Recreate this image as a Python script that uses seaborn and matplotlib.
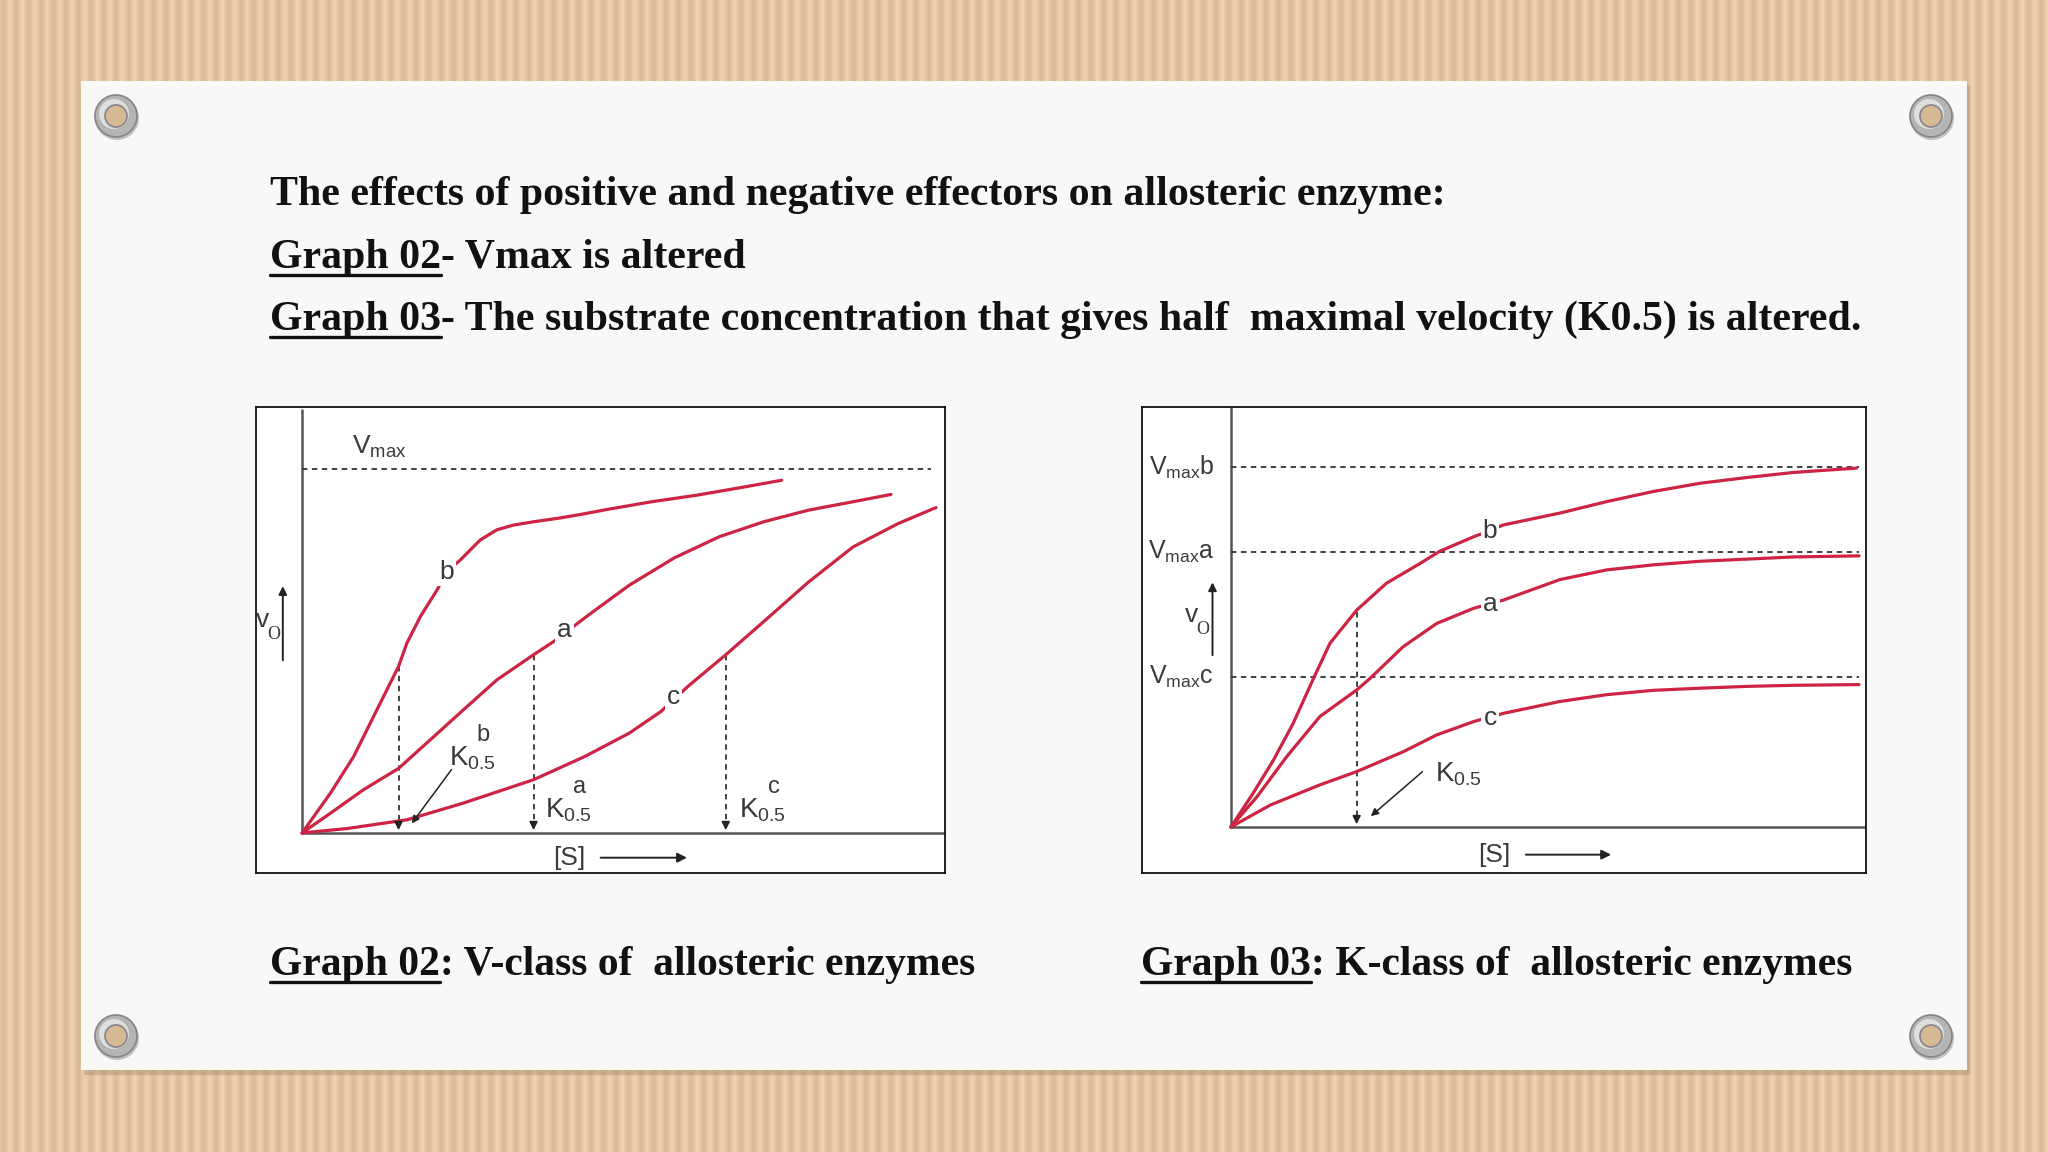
import numpy as np
import matplotlib
matplotlib.use("Agg")
import matplotlib.pyplot as plt
import seaborn as sns
from matplotlib.patches import Rectangle, Circle

# ---- Graph 02 (V-class): [S] vs vO, Vmax = 1 ----
v_b_s = [0, 0.44, 0.80, 1.11, 1.37, 1.50, 1.63, 1.84, 2.10, 2.25, 2.46, 2.77, 3.03, 3.29, 3.60,
         3.96, 4.33, 4.75, 5.44, 6.14, 6.83, 7.46]
v_b_v = [0, 0.109, 0.209, 0.319, 0.411, 0.457, 0.521, 0.594, 0.667, 0.717, 0.749, 0.804, 0.832,
         0.845, 0.854, 0.863, 0.874, 0.888, 0.909, 0.927, 0.948, 0.968]
v_a_s = [0, 0.44, 0.95, 1.50, 1.99, 2.51, 3.03, 3.60, 3.91, 4.47, 5.09, 5.79, 6.49, 7.18, 7.88, 8.57, 9.16]
v_a_v = [0, 0.054, 0.118, 0.177, 0.255, 0.338, 0.420, 0.489, 0.525, 0.600, 0.680, 0.755, 0.813,
         0.854, 0.886, 0.909, 0.929]
v_c_s = [0, 0.70, 1.63, 2.51, 3.60, 4.40, 5.09, 5.58, 6.00, 6.59, 7.18, 7.88, 8.57, 9.27, 9.86]
v_c_v = [0, 0.012, 0.036, 0.082, 0.146, 0.210, 0.274, 0.333, 0.402, 0.489, 0.580, 0.689, 0.785,
         0.849, 0.893]
v_k05 = {"b": (1.50, 0.457), "a": (3.60, 0.489), "c": (6.59, 0.489)}

# ---- Graph 03 (K-class): Vmax b = 1 ----
k_b_s = [0, 0.35, 0.67, 0.98, 1.30, 1.56, 1.98, 2.45, 2.98, 3.29, 3.82, 4.03, 4.29, 5.18, 5.92,
         6.65, 7.39, 8.13, 8.86, 9.85]
k_b_v = [0, 0.094, 0.186, 0.288, 0.413, 0.511, 0.603, 0.678, 0.733, 0.767, 0.807, 0.821, 0.840,
         0.873, 0.905, 0.933, 0.956, 0.972, 0.986, 0.998]
k_a_s = [0, 0.41, 0.88, 1.40, 1.98, 2.19, 2.71, 3.24, 3.82, 4.29, 5.18, 5.92, 6.65, 7.39, 8.13,
         8.86, 9.89]
k_a_v = [0, 0.084, 0.196, 0.307, 0.381, 0.413, 0.501, 0.566, 0.608, 0.631, 0.688, 0.715, 0.729,
         0.739, 0.745, 0.751, 0.754]
k_c_s = [0, 0.62, 1.40, 1.98, 2.71, 3.24, 3.82, 4.29, 5.18, 5.92, 6.65, 7.39, 8.13, 8.86, 9.89]
k_c_v = [0, 0.061, 0.117, 0.154, 0.209, 0.256, 0.293, 0.316, 0.349, 0.368, 0.380, 0.386, 0.391,
         0.394, 0.396]
k_vmax = {"b": 1.0, "a": 0.766, "c": 0.416}
k_k05 = (1.98, 0.599)

title_lines = [
    "The effects of positive and negative effectors on allosteric enzyme:",
    ("Graph 02", "- Vmax is altered"),
    ("Graph 03", "- The substrate concentration that gives half  maximal velocity (K0.5) is altered."),
]
captions = [("Graph 02", ": V-class of  allosteric enzymes"),
            ("Graph 03", ": K-class of  allosteric enzymes")]

sns.set_theme(style="white")
plt.rcParams["font.family"] = ["Liberation Sans", "DejaVu Sans"]
plt.rcParams["mathtext.fontset"] = "custom"
plt.rcParams["mathtext.rm"] = "Liberation Sans"
plt.rcParams["mathtext.it"] = "Liberation Sans"

RED = "#cc2442"
INK = "#3a3a3a"
SERIF = ["Liberation Serif", "DejaVu Serif"]
LBL = 19

fig = plt.figure(figsize=(20.48, 11.52), dpi=100)
renderer = fig.canvas.get_renderer()

# ---- background: corrugated cardboard + paper sheet ----
bg = fig.add_axes([0, 0, 1, 1])
bg.set_xlim(0, 2048)
bg.set_ylim(1152, 0)
bg.axis("off")
cols = np.arange(2048)
wave = 0.5 + 0.5 * np.sin(2 * np.pi * cols / 12.5)
light = np.array([0.925, 0.818, 0.695])
dark = np.array([0.862, 0.733, 0.590])
row = light[None, :] * (1 - wave[:, None]) + dark[None, :] * wave[:, None]
bg.imshow(np.tile(row[None, :, :], (8, 1, 1)), extent=(0, 2048, 1152, 0),
          aspect="auto", zorder=0)
bg.add_patch(Rectangle((84, 85), 1886, 990, fc="#a88c70", ec="none", alpha=0.45, zorder=1))
bg.add_patch(Rectangle((81, 81), 1886, 989, fc="#f8f8f7", ec="none", zorder=2))

for cx, cy in [(116, 116), (1931, 116), (116, 1036), (1931, 1036)]:
    bg.add_patch(Circle((cx + 1, cy + 2), 22, fc="#8d8d8d", ec="none", alpha=0.5, zorder=3))
    bg.add_patch(Circle((cx, cy), 21, fc="#b4b4b4", ec="#858585", lw=1.2, zorder=4))
    bg.add_patch(Circle((cx - 2, cy - 2), 15, fc="#dedede", ec="none", zorder=4))
    bg.add_patch(Circle((cx, cy), 11, fc="#d9b894", ec="#8a8a8a", lw=1.3, zorder=5))


def width_of(t):
    return t.get_window_extent(renderer).width


def fitted_size(s, target, weight="bold"):
    t = bg.text(0, 0, s, fontsize=30, family=SERIF, weight=weight)
    w = width_of(t)
    t.remove()
    return 30 * target / w


def underlined(x, y, head, tail, size):
    t = bg.text(x, y, head, fontsize=size, family=SERIF, weight="bold",
                va="baseline", color="#111111", zorder=6)
    w = width_of(t)
    bg.plot([x, x + w], [y + 7, y + 7], color="#111111", lw=2.4, zorder=6)
    bg.text(x + w, y, tail, fontsize=size, family=SERIF, weight="bold",
            va="baseline", color="#111111", zorder=6)


# ---- heading ----
hsize = fitted_size(title_lines[2][0] + title_lines[2][1], 1586)
bg.text(270, 205, title_lines[0], fontsize=hsize, family=SERIF, weight="bold",
        va="baseline", color="#111111", zorder=6)
underlined(270, 268, title_lines[1][0], title_lines[1][1], hsize)
underlined(270, 330, title_lines[2][0], title_lines[2][1], hsize)

csize = fitted_size(captions[0][0] + captions[0][1], 705)
underlined(270, 975, captions[0][0], captions[0][1], csize)
underlined(1141, 975, captions[1][0], captions[1][1], csize)


# ---- helpers for the two graphs ----
def graph_axes(box, xlim, ylim):
    x0, y0, x1, y1 = box
    ax = fig.add_axes([x0 / 2048, 1 - y1 / 1152, (x1 - x0) / 2048, (y1 - y0) / 1152])
    ax.set_xlim(*xlim)
    ax.set_ylim(*ylim)
    ax.set_facecolor("white")
    ax.set_xticks([])
    ax.set_yticks([])
    for sp in ax.spines.values():
        sp.set_visible(True)
        sp.set_color("#111111")
        sp.set_linewidth(1.3)
    ax.set_zorder(7)
    return ax


def curve(ax, s, v, label, lx, ly):
    sns.lineplot(x=s, y=v, ax=ax, color=RED, lw=2.3, estimator=None, sort=False, zorder=3)
    ax.text(lx, ly, label, fontsize=LBL, color=INK, ha="center", va="center", zorder=5,
            bbox=dict(fc="white", ec="none", pad=1.5))


def k_label(ax, x, y, sup=None):
    ax.text(x, y, r"$\mathrm{K_{0.5}}$", fontsize=LBL + 1, color=INK, ha="left", va="center")
    if sup:
        ax.annotate(sup, xy=(x, y), xytext=(25, 17), textcoords="offset points",
                    fontsize=LBL - 2, color=INK, ha="center", va="center")


def axes_lines(ax, ytop, s_y, s_x):
    ax.plot([0, 0], [0, ytop], color="#555555", lw=1.8, zorder=2)
    ax.plot([0, 10], [0, 0], color="#555555", lw=1.8, zorder=2)
    ax.text(s_x, s_y, "[S]", fontsize=LBL, color=INK, ha="center", va="center")
    ax.annotate("", xy=(6.03, s_y), xytext=(s_x + 0.45, s_y),
                arrowprops=dict(arrowstyle="-|>", color="#222222", lw=1.4, mutation_scale=14))


def vo_label(ax, tx, ax_x, y0, y1):
    ax.text(tx, (y0 + y1) / 2 + 0.01, "v", fontsize=LBL, color=INK, ha="center", va="center")
    ax.text(tx + 0.18, (y0 + y1) / 2 - 0.03, "O", fontsize=13, family=SERIF,
            color=INK, ha="center", va="center")
    ax.annotate("", xy=(ax_x, y1), xytext=(ax_x, y0),
                arrowprops=dict(arrowstyle="-|>", color="#222222", lw=1.4, mutation_scale=12))


def drop_line(ax, x, ytop):
    ax.plot([x, x], [ytop, 0.03], color="#333333", lw=1.3, ls=(0, (3, 2.5)), zorder=2)
    ax.annotate("", xy=(x, 0.0), xytext=(x, 0.035),
                arrowprops=dict(arrowstyle="-|>", color="#222222", lw=1.2, mutation_scale=12))


# ---- Graph 02 ----
ax1 = graph_axes((256, 407, 945, 873), (-0.717, 10.0), (-0.110, 1.169))
axes_lines(ax1, 1.16, -0.068, 4.15)
ax1.plot([0, 9.79], [1.0, 1.0], color="#333333", lw=1.3, ls=(0, (3, 2.5)))
ax1.text(1.20, 1.06, r"$\mathrm{V_{max}}$", fontsize=LBL, color=INK, ha="center", va="center")
curve(ax1, v_b_s, v_b_v, "b", 2.25, 0.717)
curve(ax1, v_a_s, v_a_v, "a", 4.08, 0.557)
curve(ax1, v_c_s, v_c_v, "c", 5.78, 0.372)
for key, (kx, ky) in v_k05.items():
    drop_line(ax1, kx, ky)
k_label(ax1, 2.28, 0.205, "b")
k_label(ax1, 3.78, 0.062, "a")
k_label(ax1, 6.80, 0.062, "c")
ax1.annotate("", xy=(1.68, 0.020), xytext=(2.35, 0.180),
             arrowprops=dict(arrowstyle="-|>", color="#222222", lw=1.1, mutation_scale=11))
vo_label(ax1, -0.62, -0.30, 0.466, 0.685)

# ---- Graph 03 ----
ax2 = graph_axes((1142, 407, 1866, 873), (-1.40, 10.0), (-0.128, 1.168))
axes_lines(ax2, 1.165, -0.077, 4.15)
for key, yv in k_vmax.items():
    ax2.plot([0, 9.89], [yv, yv], color="#333333", lw=1.3, ls=(0, (3, 2.5)))
    ax2.text(-0.78, yv, r"$\mathrm{V_{max}%s}$" % key, fontsize=LBL - 1, color=INK,
             ha="center", va="center")
curve(ax2, k_b_s, k_b_v, "b", 4.08, 0.824)
curve(ax2, k_a_s, k_a_v, "a", 4.08, 0.620)
curve(ax2, k_c_s, k_c_v, "c", 4.08, 0.303)
drop_line(ax2, *k_k05)
k_label(ax2, 3.22, 0.148)
ax2.annotate("", xy=(2.17, 0.025), xytext=(3.05, 0.159),
             arrowprops=dict(arrowstyle="-|>", color="#222222", lw=1.1, mutation_scale=11))
vo_label(ax2, -0.62, -0.29, 0.47, 0.688)

fig.savefig("out.png", dpi=100)
plt.close(fig)
